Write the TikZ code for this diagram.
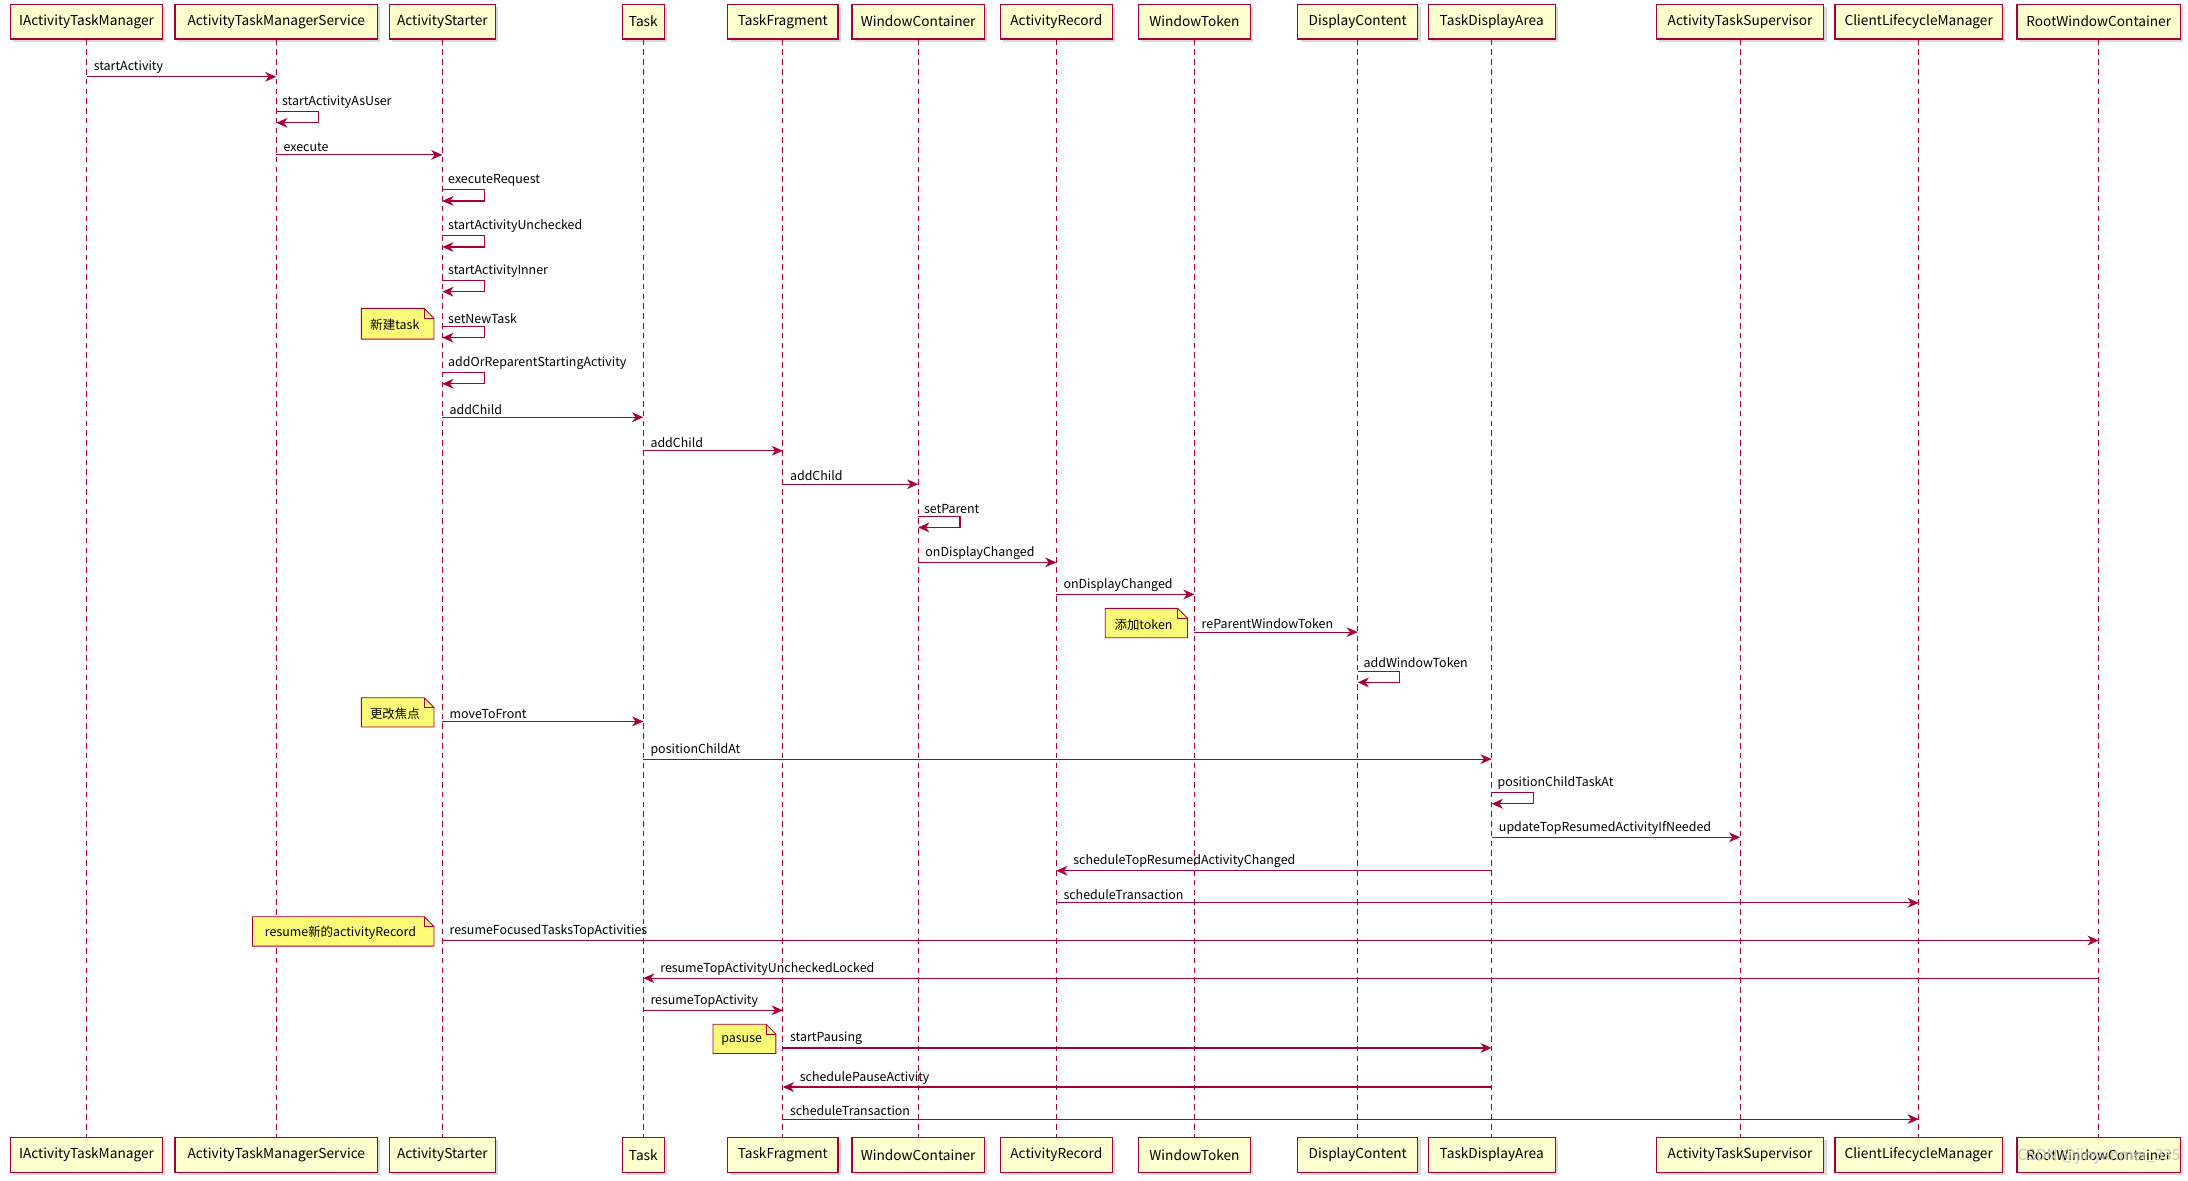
\documentclass[tikz,border=0pt]{standalone}
\usepackage{fontspec}
\setmainfont{Noto Sans CJK SC}
\usetikzlibrary{arrows.meta,shadows,calc}
\definecolor{pb}{HTML}{A80036}
\definecolor{pf}{HTML}{FEFECE}
\definecolor{nf}{HTML}{FBFB77}
\begin{document}
\begin{tikzpicture}[x=1pt,y=-1pt,
  part/.style={draw=pb,fill=pf,line width=0.9pt,minimum height=25pt,inner sep=0pt,font=\fontsize{9.8}{11}\selectfont,drop shadow={shadow xshift=2pt,shadow yshift=-2pt,opacity=0.3}},
  life/.style={draw=pb,dash pattern=on 4pt off 3pt,line width=0.6pt},
  msg/.style={draw=pb,line width=0.8pt,-{Stealth[length=8pt,width=7pt,inset=2.5pt]}},
  lbl/.style={font=\fontsize{8.9}{10}\selectfont,anchor=south west,inner sep=1pt}]
\useasboundingbox (0,0) rectangle (1568,846);
\foreach \n/\x/\w/\t in {itm/62/109/IActivityTaskManager, atms/198/145/ActivityTaskManagerService, as/317/76/ActivityStarter, task/461/30/Task, tf/561/79/TaskFragment, wc/658/95/WindowContainer, ar/757/80/ActivityRecord, wt/856/80/WindowToken, dc/973/86/DisplayContent, tda/1069/91/TaskDisplayArea, ats/1247/120/ActivityTaskSupervisor, clm/1375/120/ClientLifecycleManager, rwc/1504/117/RootWindowContainer}{
  \node[part,minimum width=\w pt] (\n T) at (\x,15.5) {\t};
  \node[part,minimum width=\w pt] (\n B) at (\x,827.5) {\t};
  \draw[life] (\n T.south) -- (\n B.north);
}
\newcommand\fw[4]{\draw[msg] (#1T |- 0,#3) -- (#2T |- 0,#3); \node[lbl] at ($(#1T |- 0,#3)+(4,-1)$) {#4};}
\newcommand\bw[4]{\draw[msg] (#1T |- 0,#3) -- (#2T |- 0,#3); \node[lbl] at ($(#2T |- 0,#3)+(11,-1)$) {#4};}
\newcommand\slf[3]{\draw[msg] (#1T |- 0,#2) -- ++(30,0) -- ++(0,8) -- ($(#1T |- 0,#2)+(0,8)$); \node[lbl] at ($(#1T |- 0,#2)+(3,-1)$) {#3};}
\newcommand\nt[5]{\draw[pb,fill=nf,line width=0.6pt] (#1,#2) -- (#3-7,#2) -- (#3,#2+7) -- (#3,#4) -- (#1,#4) -- cycle; \draw[pb,line width=0.6pt] (#3-7,#2) -- (#3-7,#2+7) -- (#3,#2+7); \node[font=\fontsize{8.9}{10}\selectfont] at ({(#1+#3)/2-2},{(#2+#4)/2+1}) {#5};}
\fw{itm}{atms}{55}{startActivity}
\slf{atms}{80}{startActivityAsUser}
\fw{atms}{as}{111}{execute}
\slf{as}{136}{executeRequest}
\slf{as}{169}{startActivityUnchecked}
\slf{as}{201}{startActivityInner}
\slf{as}{234}{setNewTask}
\nt{259}{221}{311}{243}{新建task}
\slf{as}{267}{addOrReparentStartingActivity}
\fw{as}{task}{299}{addChild}
\fw{task}{tf}{323}{addChild}
\fw{tf}{wc}{347}{addChild}
\slf{wc}{370}{setParent}
\fw{wc}{ar}{403}{onDisplayChanged}
\fw{ar}{wt}{426}{onDisplayChanged}
\fw{wt}{dc}{453}{reParentWindowToken}
\nt{792}{436}{851}{457}{添加token}
\slf{dc}{481}{addWindowToken}
\fw{as}{task}{517}{moveToFront}
\nt{259}{500}{311}{521}{更改焦点}
\fw{task}{tda}{544}{positionChildAt}
\slf{tda}{568}{positionChildTaskAt}
\fw{tda}{ats}{600}{updateTopResumedActivityIfNeeded}
\bw{tda}{ar}{624}{scheduleTopResumedActivityChanged}
\fw{ar}{clm}{647}{scheduleTransaction}
\fw{as}{rwc}{674}{resumeFocusedTasksTopActivities}
\nt{181}{657}{311}{678}{resume新的activityRecord}
\bw{rwc}{task}{701}{resumeTopActivityUncheckedLocked}
\fw{task}{tf}{724}{resumeTopActivity}
\fw{tf}{tda}{751}{startPausing}
\nt{511}{734}{556}{755}{pasuse}
\bw{tda}{tf}{779}{schedulePauseActivity}
\fw{tf}{clm}{802}{scheduleTransaction}
\node[text=gray!45,font=\fontsize{11}{12}\selectfont,anchor=east] (wm) at (1566,829) {CSDN @jinyanmei\_335};
\end{tikzpicture}
\end{document}
